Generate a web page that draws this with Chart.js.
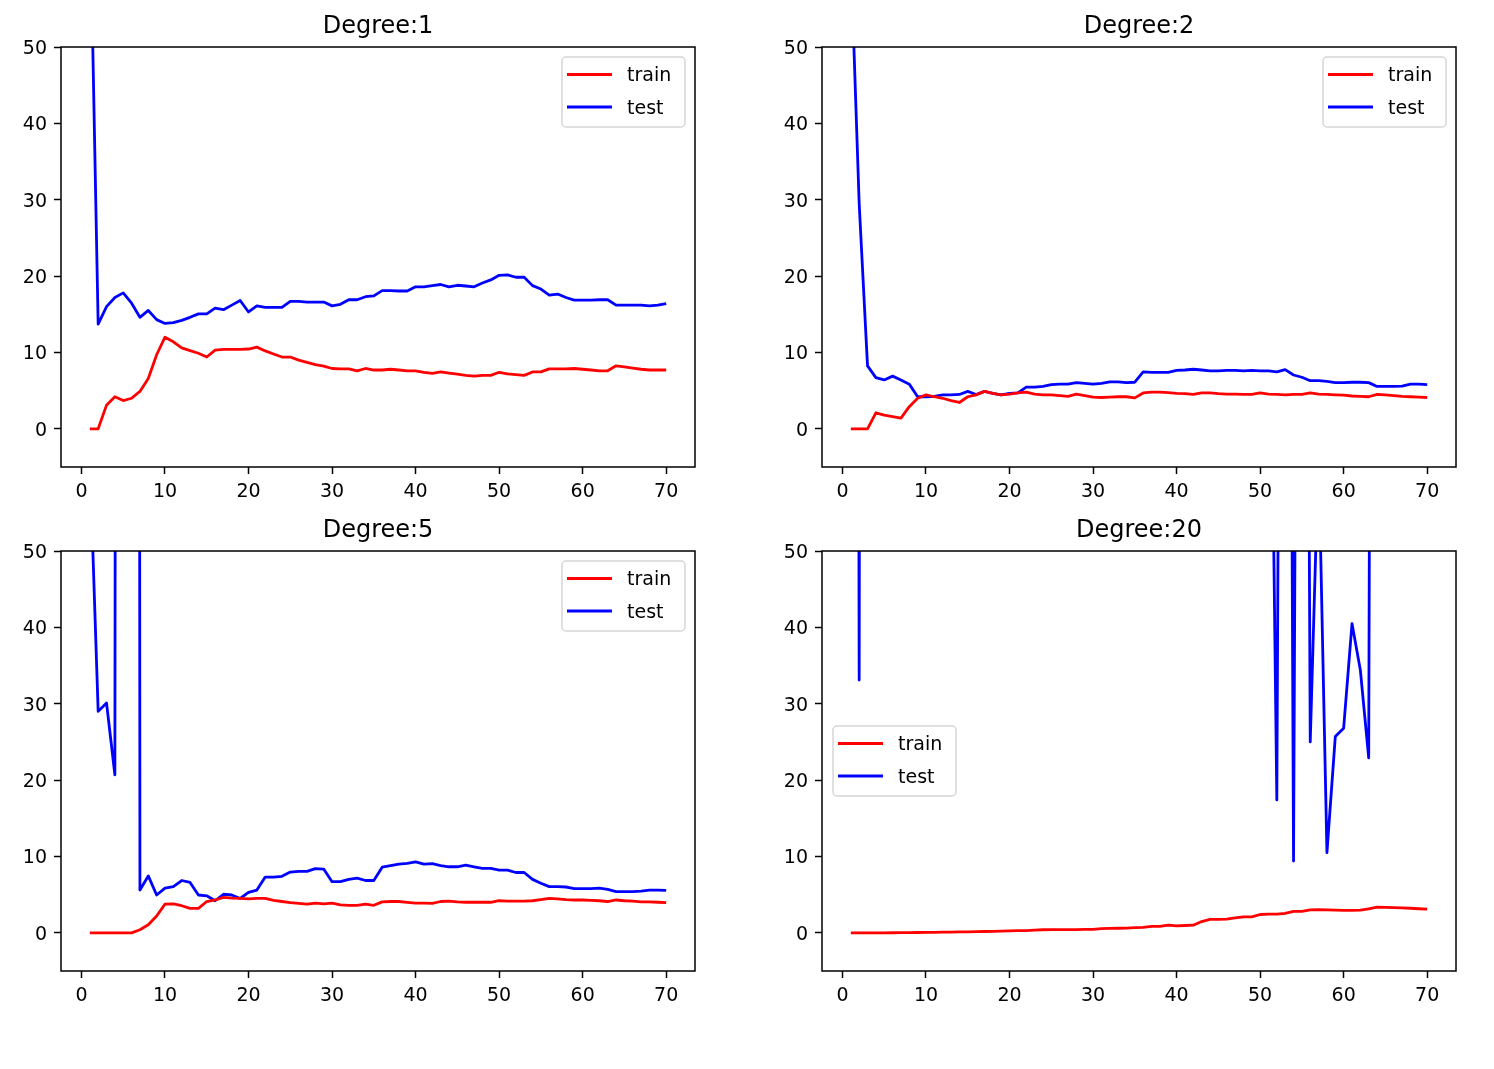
<!DOCTYPE html>
<html>
<head>
<meta charset="utf-8">
<title>Degree curves</title>
<script src="https://cdn.jsdelivr.net/npm/chart.js@4.4.1/dist/chart.umd.min.js"></script>
<style>
  html, body { margin: 0; padding: 0; background: #fff; }
  #wrap { position: relative; width: 1494px; height: 1069px; }
  canvas { position: absolute; }
</style>
</head>
<body>
<div id="wrap">
  <canvas id="c1" width="747" height="520" style="left:0;top:0"></canvas>
  <canvas id="c2" width="747" height="520" style="left:747px;top:0"></canvas>
  <canvas id="c3" width="747" height="564" style="left:0;top:505px"></canvas>
  <canvas id="c4" width="747" height="564" style="left:747px;top:505px"></canvas>
</div>
<script>
// x values (training set size)
const sizes = [1, 2, 3, 4, 5, 6, 7, 8, 9, 10, 11, 12, 13, 14, 15, 16, 17, 18, 19, 20,
  21, 22, 23, 24, 25, 26, 27, 28, 29, 30, 31, 32, 33, 34, 35, 36, 37, 38, 39, 40,
  41, 42, 43, 44, 45, 46, 47, 48, 49, 50, 51, 52, 53, 54, 55, 56, 57, 58, 59, 60,
  61, 62, 63, 64, 65, 66, 67, 68, 69, 70];

const xTicks = [0, 10, 20, 30, 40, 50, 60, 70];
const yTicks = [0, 10, 20, 30, 40, 50];
const titles = ['Degree:1', 'Degree:2', 'Degree:5', 'Degree:20'];
const seriesNames = ['train', 'test'];

const train1 = [0, 0, 3.1, 4.2, 3.7, 4.0, 4.9, 6.6, 9.7, 12.0,
  11.4, 10.6, 10.25, 9.9, 9.4, 10.3, 10.4, 10.4, 10.4, 10.45,
  10.7, 10.2, 9.8, 9.4, 9.4, 9.0, 8.7, 8.4, 8.2, 7.9,
  7.85, 7.85, 7.6, 7.9, 7.7, 7.7, 7.8, 7.7, 7.6, 7.6,
  7.4, 7.25, 7.45, 7.3, 7.15, 7.0, 6.9, 7.0, 7.0, 7.4,
  7.2, 7.1, 7.0, 7.45, 7.45, 7.85, 7.85, 7.85, 7.9, 7.8,
  7.7, 7.6, 7.6, 8.25, 8.1, 7.95, 7.8, 7.7, 7.7, 7.7];
const test1 = [70, 13.7, 16.0, 17.2, 17.8, 16.45, 14.6, 15.5, 14.3, 13.8,
  13.9, 14.2, 14.6, 15.05, 15.05, 15.8, 15.6, 16.2, 16.8, 15.3,
  16.1, 15.9, 15.9, 15.9, 16.7, 16.7, 16.6, 16.6, 16.6, 16.1,
  16.3, 16.9, 16.9, 17.3, 17.4, 18.1, 18.1, 18.05, 18.05, 18.6,
  18.6, 18.75, 18.9, 18.6, 18.8, 18.7, 18.6, 19.1, 19.5, 20.1,
  20.15, 19.85, 19.85, 18.75, 18.3, 17.5, 17.65, 17.2, 16.85, 16.85,
  16.85, 16.9, 16.9, 16.2, 16.2, 16.2, 16.2, 16.1, 16.2, 16.4];

const train2 = [0, 0, 0, 2.1, 1.8, 1.6, 1.4, 2.9, 4.0, 4.45,
  4.2, 4.0, 3.7, 3.45, 4.2, 4.45, 4.9, 4.65, 4.45, 4.55,
  4.7, 4.8, 4.55, 4.45, 4.45, 4.35, 4.25, 4.55, 4.35, 4.15,
  4.1, 4.15, 4.2, 4.2, 4.05, 4.7, 4.8, 4.8, 4.75, 4.65,
  4.6, 4.5, 4.7, 4.7, 4.6, 4.55, 4.55, 4.5, 4.5, 4.7,
  4.55, 4.5, 4.45, 4.5, 4.5, 4.7, 4.55, 4.5, 4.45, 4.4,
  4.3, 4.25, 4.2, 4.5, 4.45, 4.35, 4.25, 4.2, 4.15, 4.1];
const test2 = [62, 29.5, 8.25, 6.7, 6.4, 6.9, 6.4, 5.85, 4.2, 4.2,
  4.25, 4.45, 4.45, 4.5, 4.9, 4.5, 4.9, 4.65, 4.45, 4.65,
  4.7, 5.45, 5.45, 5.55, 5.8, 5.85, 5.85, 6.05, 5.95, 5.85,
  5.95, 6.15, 6.15, 6.05, 6.1, 7.45, 7.4, 7.4, 7.4, 7.65,
  7.7, 7.8, 7.7, 7.6, 7.6, 7.65, 7.65, 7.6, 7.65, 7.6,
  7.6, 7.45, 7.75, 7.05, 6.75, 6.3, 6.3, 6.2, 6.05, 6.05,
  6.1, 6.1, 6.05, 5.55, 5.55, 5.55, 5.6, 5.85, 5.85, 5.8];

const train3 = [0, 0, 0, 0, 0, 0, 0.4, 1.05, 2.2, 3.75,
  3.8, 3.55, 3.2, 3.2, 4.1, 4.3, 4.65, 4.55, 4.5, 4.45,
  4.5, 4.5, 4.25, 4.1, 3.95, 3.85, 3.75, 3.9, 3.8, 3.9,
  3.65, 3.6, 3.6, 3.75, 3.6, 4.05, 4.1, 4.1, 4.0, 3.9,
  3.9, 3.85, 4.1, 4.15, 4.05, 4.0, 4.0, 4.0, 4.0, 4.2,
  4.15, 4.15, 4.15, 4.2, 4.35, 4.5, 4.45, 4.35, 4.3, 4.3,
  4.25, 4.2, 4.1, 4.3, 4.2, 4.15, 4.05, 4.05, 4.0, 3.95];
const test3 = [62, 29.0, 30.1, 20.7, 900, 1400, 5.6, 7.45, 4.95, 5.85,
  6.05, 6.85, 6.6, 4.95, 4.85, 4.2, 5.05, 4.95, 4.5, 5.3,
  5.6, 7.3, 7.3, 7.4, 7.95, 8.05, 8.05, 8.4, 8.35, 6.7,
  6.7, 7.0, 7.15, 6.85, 6.85, 8.6, 8.8, 9.0, 9.1, 9.3,
  9.0, 9.05, 8.8, 8.65, 8.65, 8.85, 8.65, 8.45, 8.45, 8.2,
  8.2, 7.9, 7.9, 7.0, 6.5, 6.05, 6.05, 6.0, 5.8, 5.8,
  5.8, 5.85, 5.7, 5.4, 5.4, 5.4, 5.45, 5.6, 5.6, 5.55];

const train4 = [0, 0, 0, 0, 0, 0.01, 0.02, 0.03, 0.04, 0.05,
  0.06, 0.08, 0.1, 0.12, 0.13, 0.15, 0.17, 0.2, 0.22, 0.25,
  0.28, 0.3, 0.35, 0.4, 0.42, 0.42, 0.43, 0.43, 0.44, 0.45,
  0.55, 0.57, 0.6, 0.62, 0.68, 0.72, 0.85, 0.85, 1.02, 0.92,
  0.96, 1.0, 1.48, 1.75, 1.75, 1.78, 1.95, 2.1, 2.1, 2.4,
  2.45, 2.45, 2.55, 2.8, 2.8, 3.0, 3.05, 3.0, 2.97, 2.95,
  2.95, 2.97, 3.15, 3.35, 3.32, 3.3, 3.27, 3.22, 3.15, 3.1];
// most of the degree 20 test errors are far above the visible range
const test4 = [600, 33.1, 900, 1500, 2400, 3100, 1800, 2700, 4200, 3600,
  5100, 2900, 4700, 6300, 3800, 5600, 7200, 4400, 6100, 8300,
  5200, 7600, 9100, 6400, 8800, 10500, 7300, 9600, 12100, 8200,
  11000, 13500, 9400, 12600, 15200, 10800, 14100, 16700, 12300, 15800,
  18400, 13900, 17200, 20100, 15600, 19000, 22400, 17100, 21000, 24600,
  108, 17.4, 250, 9.4, 250, 25, 63, 10.5, 25.7, 26.8,
  40.5, 34.4, 22.9, 400, 900, 1600, 2300, 3400, 2800, 4100];

const FONT = "'DejaVu Sans', sans-serif";

function pts(ys) {
    return sizes.map((x, i) => ({ x: x, y: ys[i] }));
}

// frame, title and legend drawn the matplotlib way
const mplPlugin = {
    id: 'mpl',
    afterDatasetsDraw(chart) {
        const ctx = chart.ctx;
        const a = chart.chartArea;
        ctx.save();
        ctx.strokeStyle = '#000';
        ctx.lineWidth = 1.5;
        ctx.strokeRect(a.left, a.top, a.right - a.left, a.bottom - a.top);
        ctx.restore();
    },
    afterDraw(chart, args, opts) {
        const ctx = chart.ctx;
        const a = chart.chartArea;
        ctx.save();
        ctx.fillStyle = '#000';
        ctx.font = '24px ' + FONT;
        ctx.textAlign = 'center';
        ctx.textBaseline = 'alphabetic';
        ctx.fillText(opts.title, (a.left + a.right) / 2, a.top - 14);

        const w = 123, h = 70;
        let bx, by;
        if (opts.legend === 'center left') {
            bx = a.left + 11;
            by = (a.top + a.bottom) / 2 - h / 2;
        } else {
            bx = a.right - 10 - w;
            by = a.top + 10;
        }
        ctx.beginPath();
        ctx.roundRect(bx, by, w, h, 4);
        ctx.fillStyle = 'rgba(255,255,255,0.8)';
        ctx.fill();
        ctx.strokeStyle = '#d6d6d6';
        ctx.lineWidth = 1.5;
        ctx.stroke();

        const rows = [by + 17.5, by + 50];
        chart.data.datasets.forEach((ds, i) => {
            ctx.beginPath();
            ctx.moveTo(bx + 5, rows[i]);
            ctx.lineTo(bx + 50, rows[i]);
            ctx.strokeStyle = ds.borderColor;
            ctx.lineWidth = 2.8;
            ctx.stroke();
            ctx.fillStyle = '#000';
            ctx.font = '19px ' + FONT;
            ctx.textAlign = 'left';
            ctx.textBaseline = 'middle';
            ctx.fillText(ds.label, bx + 65, rows[i] + 2);
        });
        ctx.restore();
    }
};

function makeChart(id, title, train, test, legendPos, pad) {
    const ctx = document.getElementById(id).getContext('2d');
    const tickFont = { family: FONT, size: 19 };
    return new Chart(ctx, {
        type: 'line',
        data: {
            datasets: [{
                label: seriesNames[0],
                data: pts(train),
                borderColor: '#ff0000',
                borderWidth: 2.8,
                pointRadius: 0,
                borderJoinStyle: 'round',
                fill: false,
                tension: 0
            }, {
                label: seriesNames[1],
                data: pts(test),
                borderColor: '#0000ff',
                borderWidth: 2.8,
                pointRadius: 0,
                borderJoinStyle: 'round',
                fill: false,
                tension: 0
            }]
        },
        plugins: [mplPlugin],
        options: {
            responsive: false,
            animation: false,
            events: [],
            layout: { padding: pad },
            plugins: {
                legend: { display: false },
                tooltip: { enabled: false },
                mpl: { title: title, legend: legendPos }
            },
            scales: {
                x: {
                    type: 'linear',
                    min: -2.45,
                    max: 73.45,
                    afterBuildTicks: s => { s.ticks = xTicks.map(v => ({ value: v })); },
                    afterFit: s => { s.height = 40; },
                    border: { display: false },
                    grid: {
                        drawOnChartArea: false,
                        tickLength: 7,
                        tickWidth: 1.5,
                        tickColor: '#000'
                    },
                    ticks: {
                        color: '#000',
                        font: tickFont,
                        padding: 7,
                        maxRotation: 0,
                        autoSkip: false
                    }
                },
                y: {
                    min: -5,
                    max: 50,
                    afterBuildTicks: s => { s.ticks = yTicks.map(v => ({ value: v })); },
                    afterFit: s => { s.width = 61; },
                    border: { display: false },
                    grid: {
                        drawOnChartArea: false,
                        tickLength: 7,
                        tickWidth: 1.5,
                        tickColor: '#000'
                    },
                    ticks: {
                        color: '#000',
                        font: tickFont,
                        padding: 7,
                        labelOffset: 2,
                        autoSkip: false
                    }
                }
            }
        }
    });
}

document.addEventListener('DOMContentLoaded', function () {
    makeChart('c1', titles[0], train1, test1, 'upper right', { left: 0, right: 52, top: 47, bottom: 13 });
    makeChart('c2', titles[1], train2, test2, 'upper right', { left: 14, right: 38, top: 47, bottom: 13 });
    makeChart('c3', titles[2], train3, test3, 'upper right', { left: 0, right: 52, top: 46, bottom: 58 });
    makeChart('c4', titles[3], train4, test4, 'center left', { left: 14, right: 38, top: 46, bottom: 58 });
});
</script>
</body>
</html>
